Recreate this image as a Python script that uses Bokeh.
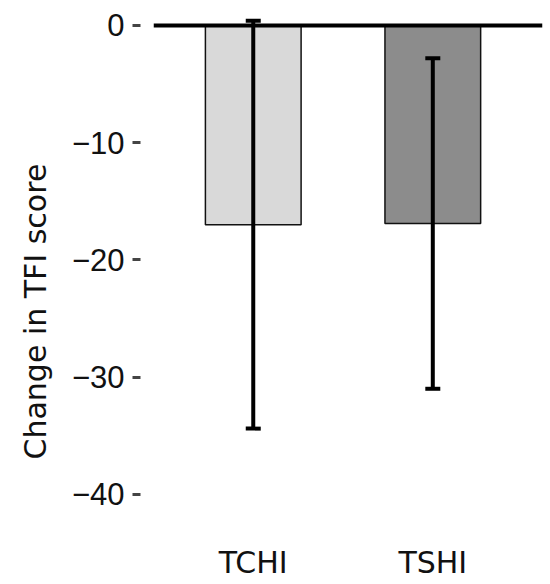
from bokeh.plotting import figure
from bokeh.models import ColumnDataSource, Range1d, FixedTicker, CustomJSTickFormatter, Whisker, TeeHead, Span, Title
from bokeh.embed import file_html
from bokeh.resources import INLINE

categories = ["TCHI", "TSHI"]
means = [-17.0, -16.9]
errors = [17.4, 14.1]
fills = ["#d9d9d9", "#8c8c8c"]
y_ticks = [0, -10, -20, -30, -40]
y_title = "Change in TFI score"

xs = [i + 0.5 for i in range(len(categories))]
lower = [m - e for m, e in zip(means, errors)]
upper = [m + e for m, e in zip(means, errors)]
src = ColumnDataSource(dict(x=xs, top=means, lower=lower, upper=upper, fill=fills))

p = figure(width=550, height=584, output_backend="svg", toolbar_location=None,
           x_range=Range1d(-0.0556, 2.111), y_range=Range1d(-42.24, 1.45),
           min_border_left=152, min_border_right=8, min_border_top=8, min_border_bottom=64)
p.outline_line_color = None
p.grid.visible = False
p.background_fill_color = "white"

p.vbar(x="x", top="top", bottom=0, width=0.533, source=src, fill_color="fill",
       line_color="#111111", line_width=1.5)

p.add_layout(Span(location=0, dimension="width", line_color="black", line_width=4))

w = Whisker(base="x", lower="lower", upper="upper", source=src, line_color="black", line_width=4,
            level="annotation",
            upper_head=TeeHead(size=15, line_color="black", line_width=4),
            lower_head=TeeHead(size=15, line_color="black", line_width=4))
p.add_layout(w)

# y axis
ya = p.yaxis[0]
ya.ticker = FixedTicker(ticks=y_ticks)
ya.formatter = CustomJSTickFormatter(code="return tick == 0 ? '0' : '\u2212' + Math.abs(tick);")
ya.axis_line_color = None
ya.major_tick_in = -13
ya.major_tick_out = 21
ya.major_tick_line_color = "#444444"
ya.major_tick_line_width = 3
ya.minor_tick_line_color = None
ya.major_label_standoff = 8
ya.major_label_text_font = "Liberation Sans"
ya.major_label_text_font_size = "31px"
ya.major_label_text_color = "#111111"

ytitle = Title(text=y_title, align="left", offset=61,
               text_font="DejaVu Sans", text_font_style="normal", text_font_size="30px",
               text_color="#111111", standoff=31)
p.add_layout(ytitle, "left")

# x axis
xa = p.xaxis[0]
xa.ticker = FixedTicker(ticks=xs)
xa.formatter = CustomJSTickFormatter(args=dict(labels=categories),
                                     code="const i = Math.round(tick - 0.5); return labels[i] || '';")
xa.axis_line_color = None
xa.major_tick_line_color = None
xa.minor_tick_line_color = None
xa.major_tick_out = 0
xa.major_tick_in = 0
xa.major_label_standoff = 24
xa.major_label_text_font = "DejaVu Sans"
xa.major_label_text_font_size = "30px"
xa.major_label_text_color = "#111111"

open("out.html", "w").write(file_html(p, INLINE))
